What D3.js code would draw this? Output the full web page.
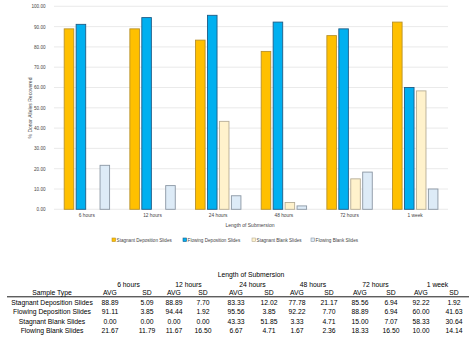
<!DOCTYPE html>
<html>
<head>
<meta charset="utf-8">
<script src="https://cdn.jsdelivr.net/npm/d3@7"></script>
<style>
body { margin: 0; background: #fff; }
svg text { font-family: "Liberation Sans", Arial, sans-serif; fill: #000; }
</style>
</head>
<body>
<svg id="chart" width="474" height="339"></svg>
<script>
// categories and series
var categories = ["6 hours", "12 hours", "24 hours", "48 hours", "72 hours", "1 week"];
var series = ["Stagnant Deposition Slides", "Flowing Deposition Slides", "Stagnant Blank Slides", "Flowing Blank Slides"];

// averages (bars) and standard deviations, one array per series
var stagnantDepAvg = [88.89, 88.89, 83.33, 77.78, 85.56, 92.22];
var stagnantDepSd  = [5.09, 7.70, 12.02, 21.17, 6.94, 1.92];
var flowingDepAvg  = [91.11, 94.44, 95.56, 92.22, 88.89, 60.00];
var flowingDepSd   = [3.85, 1.92, 3.85, 7.70, 6.94, 41.63];
var stagnantBlkAvg = [0.00, 0.00, 43.33, 3.33, 15.00, 58.33];
var stagnantBlkSd  = [0.00, 0.00, 51.85, 4.71, 7.07, 30.64];
var flowingBlkAvg  = [21.67, 11.67, 6.67, 1.67, 18.33, 10.00];
var flowingBlkSd   = [11.79, 16.50, 4.71, 2.36, 16.50, 14.14];

var yTicks = [0, 10, 20, 30, 40, 50, 60, 70, 80, 90, 100];

var avgs = [stagnantDepAvg, flowingDepAvg, stagnantBlkAvg, flowingBlkAvg];
var sds = [stagnantDepSd, flowingDepSd, stagnantBlkSd, flowingBlkSd];

var fills = ["#FFC000", "#00B0F0", "#FFF2CC", "#DDEBF7"];
var strokes = ["#B8912A", "#1F5C86", "#B5AC95", "#8A96A3"];

var svg = d3.select("#chart");

var plotLeft = 54, plotRight = 448, plotTop = 6.3, plotBottom = 209.3;

var x = d3.scaleBand().domain(categories).range([plotLeft, plotRight]);
var xs = d3.scaleBand().domain(series).range([10.2, 55.6]).paddingInner(0.2);
var y = d3.scaleLinear().domain([0, 100]).range([plotBottom, plotTop]);

// gridlines
svg.append("g").selectAll("line").data(yTicks).enter().append("line")
  .attr("x1", plotLeft).attr("x2", plotRight)
  .attr("y1", function(d){ return y(d); }).attr("y2", function(d){ return y(d); })
  .attr("stroke", "#e4e4e4").attr("stroke-width", 0.8);

// y axis labels
var yAxis = svg.append("g").attr("transform", "translate(" + (plotLeft - 8.5) + ",0)")
  .call(d3.axisLeft(y).tickValues(yTicks).tickSize(0).tickFormat(d3.format(".2f")));
yAxis.select(".domain").remove();
yAxis.selectAll("text").attr("x", 0).style("font-size", "4.6px").style("fill", "#444");

// x axis labels
var xAxis = svg.append("g").attr("transform", "translate(0," + (plotBottom + 4.5) + ")")
  .call(d3.axisBottom(x).tickSize(0));
xAxis.select(".domain").remove();
xAxis.selectAll("text").attr("y", 0).attr("dy", "0.71em").style("font-size", "4.8px").style("fill", "#444");

// bars
var bars = [];
categories.forEach(function(c, i){
  series.forEach(function(s, j){
    bars.push({cat: c, ser: s, j: j, v: avgs[j][i]});
  });
});

svg.append("g").selectAll("rect").data(bars.filter(function(d){ return d.v > 0; })).enter().append("rect")
  .attr("x", function(d){ return x(d.cat) + xs(d.ser); })
  .attr("y", function(d){ return y(d.v); })
  .attr("width", xs.bandwidth())
  .attr("height", function(d){ return y(0) - y(d.v); })
  .attr("fill", function(d){ return fills[d.j]; })
  .attr("stroke", function(d){ return strokes[d.j]; })
  .attr("stroke-width", 0.9);

// axis titles
svg.append("text").attr("x", 250).attr("y", 227).attr("text-anchor", "middle")
  .style("font-size", "5px").style("fill", "#444").text("Length of Submersion");
svg.append("text").attr("transform", "translate(32,108) rotate(-90)").attr("text-anchor", "middle")
  .style("font-size", "5px").style("fill", "#444").text("% Donor Alleles Recovered");

// legend
var legendX = [112, 183, 252, 311];
var legend = svg.append("g").selectAll("g").data(series).enter().append("g")
  .attr("transform", function(d, i){ return "translate(" + legendX[i] + ",240)"; });
legend.append("rect").attr("x", 0).attr("y", -2).attr("width", 3.6).attr("height", 3.6)
  .attr("fill", function(d, i){ return fills[i]; })
  .attr("stroke", function(d, i){ return strokes[i]; }).attr("stroke-width", 0.6);
legend.append("text").attr("x", 4.6).attr("y", 1.6)
  .style("font-size", "4.6px").style("fill", "#444").text(function(d){ return d; });

// table
var table = svg.append("g");
var colAvg = [110, 174, 236, 297, 360, 421];
var colSd = [147, 203, 269, 329, 391, 454];
var tfs = "6.8px";

table.append("text").attr("x", 251).attr("y", 277).attr("text-anchor", "middle")
  .style("font-size", tfs).text("Length of Submersion");

categories.forEach(function(c, i){
  table.append("text").attr("x", (colAvg[i] + colSd[i]) / 2).attr("y", 287).attr("text-anchor", "middle")
    .style("font-size", tfs).text(c);
  table.append("text").attr("x", colAvg[i]).attr("y", 295).attr("text-anchor", "middle")
    .style("font-size", tfs).text("AVG");
  table.append("text").attr("x", colSd[i]).attr("y", 295).attr("text-anchor", "middle")
    .style("font-size", tfs).text("SD");
});
table.append("text").attr("x", 52).attr("y", 295).attr("text-anchor", "middle")
  .style("font-size", tfs).text("Sample Type");

table.append("line").attr("x1", 7).attr("x2", 469).attr("y1", 296.8).attr("y2", 296.8)
  .attr("stroke", "#000").attr("stroke-width", 0.9);

var rowY = [305, 314.3, 323.6, 332.9];
series.forEach(function(s, j){
  table.append("text").attr("x", 52).attr("y", rowY[j]).attr("text-anchor", "middle")
    .style("font-size", tfs).text(s);
  categories.forEach(function(c, i){
    table.append("text").attr("x", colAvg[i]).attr("y", rowY[j]).attr("text-anchor", "middle")
      .style("font-size", tfs).text(avgs[j][i].toFixed(2));
    table.append("text").attr("x", colSd[i]).attr("y", rowY[j]).attr("text-anchor", "middle")
      .style("font-size", tfs).text(sds[j][i].toFixed(2));
  });
});
</script>
</body>
</html>
